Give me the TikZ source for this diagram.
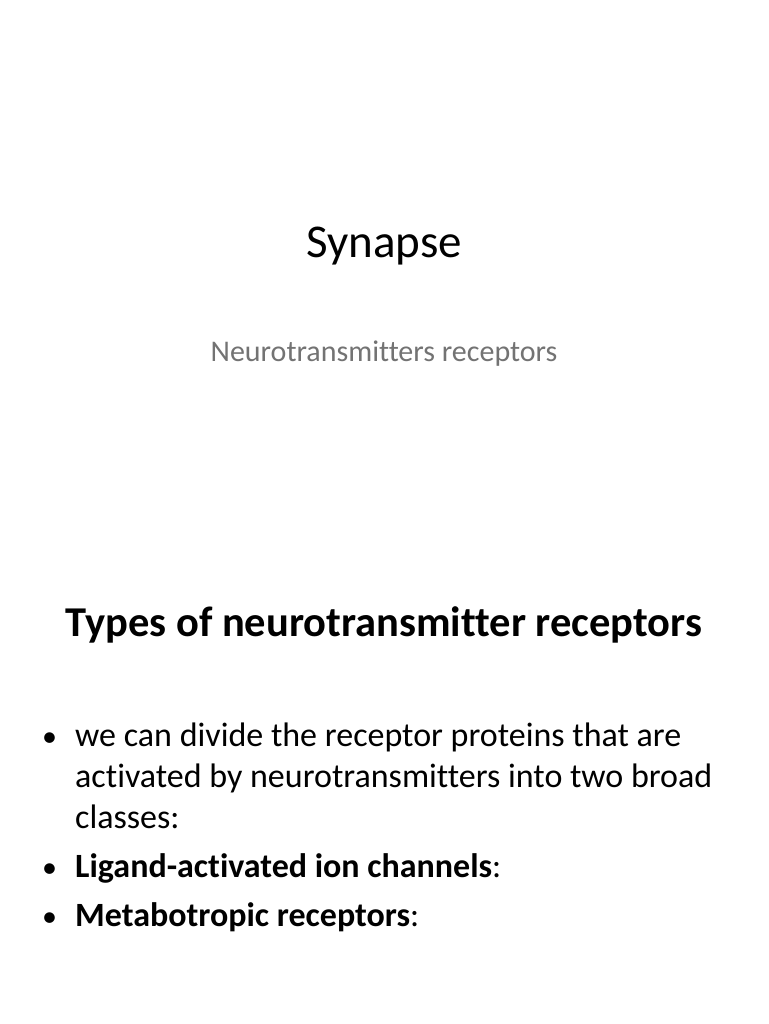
\documentclass[tikz,border=0pt]{standalone}
\usepackage{fontspec}
\setmainfont[RawFeature=-liga]{Carlito}
\begin{document}
\begin{tikzpicture}[x=1pt,y=1pt,
  line/.style={anchor=base west,inner sep=0pt,font=\fontsize{34}{40}\selectfont},
  bul/.style={anchor=base west,inner sep=0pt,font=\fontsize{30}{36}\selectfont}]
\useasboundingbox[fill=white] (0,0) rectangle (768,-1024);
\node[inner sep=0pt,anchor=base,font=\fontsize{47}{56}\selectfont] (t1) at (384,-257) {Synapse};
\node[inner sep=0pt,anchor=base,text=black!55,font=\fontsize{30}{36}\selectfont] (t2) at (384,-361) {Neurotransmitters receptors};
\node[inner sep=0pt,anchor=base,font=\fontsize{42.5}{50}\selectfont\bfseries] (t3) at (384,-636) {Types of neurotransmitter receptors};
\node[bul] (b1) at (42,-746) {•};
\node[line] (l1) at (75,-746) {we can divide the receptor proteins that are};
\node[line] (l2) at (75,-787) {activated by neurotransmitters into two broad};
\node[line] (l3) at (75,-828) {classes:};
\node[bul] (b2) at (42,-877) {•};
\node[line] (l4) at (75,-877) {\textbf{Ligand-activated ion channels}:};
\node[bul] (b3) at (42,-926) {•};
\node[line] (l5) at (75,-926) {\textbf{Metabotropic receptors}:};
\end{tikzpicture}
\end{document}
